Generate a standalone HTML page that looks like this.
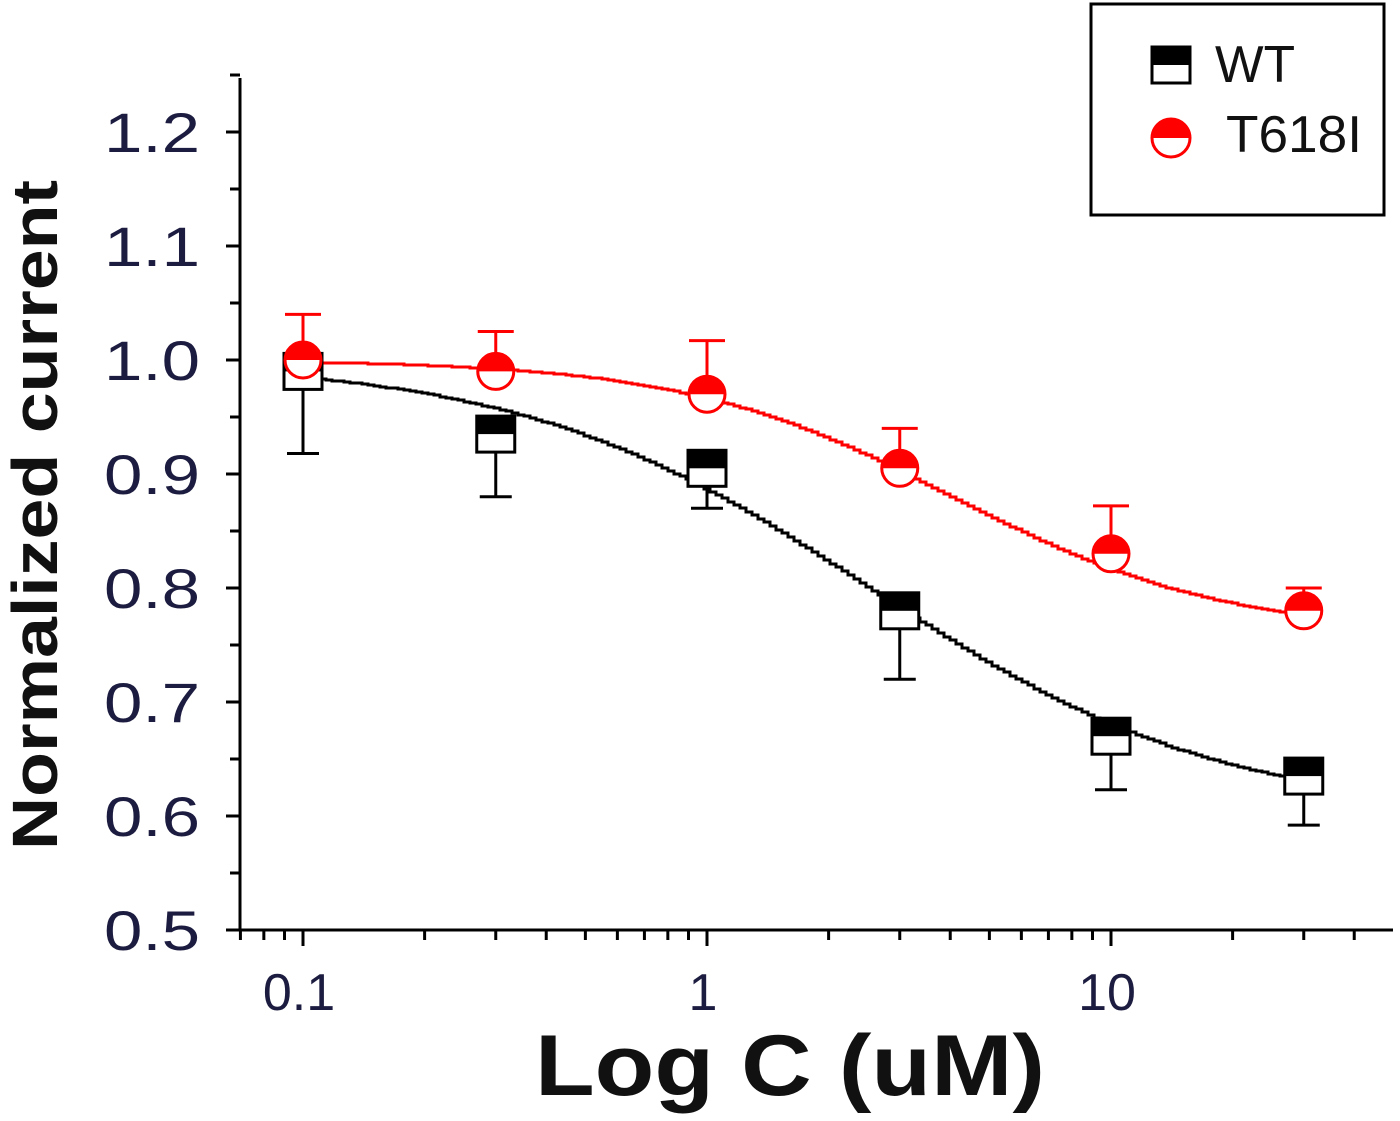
<!DOCTYPE html>
<html><head><meta charset="utf-8"><style>
body{margin:0;background:#fff;}
svg{display:block;font-family:"Liberation Sans",Arial,sans-serif;}
</style></head><body>
<svg id="chart" width="1400" height="1121" viewBox="0 0 1400 1121">
<g id="axes"></g>
<g id="curves"></g>
<g id="marks"></g>
<text transform="translate(57,515) rotate(-90)" text-anchor="middle" font-size="64" font-weight="bold" fill="#111" textLength="670" lengthAdjust="spacingAndGlyphs">Normalized current</text>
<text x="790" y="1095" text-anchor="middle" font-size="86" font-weight="bold" fill="#111" textLength="510" lengthAdjust="spacingAndGlyphs">Log C (uM)</text>
<g>
<rect x="1091" y="4" width="293" height="211" fill="#fff" stroke="#000" stroke-width="3"/>
<g>
<rect x="1152" y="47" width="38" height="36" fill="#fff" stroke="#000" stroke-width="3"/>
<rect x="1152" y="47" width="38" height="18" fill="#000"/>
<text x="1215" y="82" font-size="52" fill="#111" textLength="80" lengthAdjust="spacingAndGlyphs">WT</text></g>
<g>
<circle cx="1171" cy="138" r="19" fill="#fff" stroke="#f00" stroke-width="3"/>
<path d="M1152,138 A19,19 0 0 1 1190,138 Z" fill="#f00"/>
<text x="1226" y="152" font-size="52" fill="#111" textLength="136" lengthAdjust="spacingAndGlyphs">T618I</text></g>
</g>
</svg>
<script>
const xTicks=[0.1,1,10];
const xTickLabels=["0.1","1","10"];
const yTicks=[0.5,0.6,0.7,0.8,0.9,1.0,1.1,1.2];
const yTickLabels=["0.5","0.6","0.7","0.8","0.9","1.0","1.1","1.2"];
const conc=[0.1,0.3,1,3,10,30];
const wtMean=[0.99,0.935,0.905,0.78,0.67,0.635];
const wtErr=[0.072,0.055,0.035,0.06,0.047,0.043];
const mutMean=[1.0,0.99,0.97,0.905,0.83,0.78];
const mutErr=[0.04,0.035,0.047,0.035,0.042,0.02];
const wtFit=[1.0,0.6,2.5,1.0];
const mutFit=[1.0,0.76,4.0,1.3];
const NS="http://www.w3.org/2000/svg";
const X=c=>707+404*Math.log10(c);
const Y=v=>930-(v-0.5)*1140;
function mk(tag,attrs,parent){const e=document.createElementNS(NS,tag);for(const k in attrs)e.setAttribute(k,attrs[k]);parent.appendChild(e);return e;}
const axes=document.getElementById('axes');
mk('line',{x1:240,y1:78,x2:240,y2:931,stroke:'#000','stroke-width':3},axes);
mk('line',{x1:239,y1:930,x2:1393,y2:930,stroke:'#000','stroke-width':3},axes);
for(let v=0.5;v<=1.251;v+=0.05){const major=Math.abs(v*10-Math.round(v*10))<0.01;
const t=mk('line',{x1:major?226:230,y1:Y(v),x2:240,y2:Y(v),stroke:'#000','stroke-width':3},axes);
}
yTicks.forEach((v,i)=>{const t=mk('text',{x:200,y:Y(v)+20,'text-anchor':'end','font-size':56,fill:'#1c1c40',textLength:96,lengthAdjust:'spacingAndGlyphs'},axes);t.textContent=yTickLabels[i];
});
for(let d=0.01;d<=10;d*=10){for(let m=1;m<=9;m++){const c=d*m;const x=X(c);if(x<240||x>1393)continue;
const t=mk('line',{x1:x,y1:930,x2:x,y2:m===1?946:940,stroke:'#000','stroke-width':3},axes);
}}
xTicks.forEach((c,i)=>{const t=mk('text',{x:X(c)-4,y:1010,'text-anchor':'middle','font-size':52,fill:'#1c1c40'},axes);t.textContent=xTickLabels[i];
});
const curves=document.getElementById('curves');
function hill(p,c){return p[1]+(p[0]-p[1])/(1+Math.pow(c/p[2],p[3]));}
function curve(p,color,name){let d='';let py=null;for(let x=302;x<=1304;x+=6){const c=Math.pow(10,(x-707)/404);const y=Math.round(Y(hill(p,c)));
if(py===null)d+='M'+x+','+y;else d+='H'+x+'V'+y;py=y;}
const e=mk('path',{d:d,fill:'none',stroke:color,'stroke-width':3},curves);}
curve(wtFit,'#000','wt-fit-curve');curve(mutFit,'#f00','t618i-fit-curve');
const marks=document.getElementById('marks');
conc.forEach((c,i)=>{const x=X(c),y=Y(wtMean[i]),yl=Y(wtMean[i]-wtErr[i]);
const g=mk('g',{},marks);
mk('line',{x1:x,y1:y,x2:x,y2:yl,stroke:'#000','stroke-width':3},g);
mk('line',{x1:x-16,y1:yl,x2:x+16,y2:yl,stroke:'#000','stroke-width':3},g);
mk('rect',{x:x-19,y:y-18,width:38,height:36,fill:'#fff',stroke:'#000','stroke-width':3},g);
mk('rect',{x:x-19,y:y-18,width:38,height:18,fill:'#000'},g);});
conc.forEach((c,i)=>{const x=X(c),y=Y(mutMean[i]),yu=Y(mutMean[i]+mutErr[i]);
const g=mk('g',{},marks);
mk('line',{x1:x,y1:y,x2:x,y2:yu,stroke:'#f00','stroke-width':3},g);
mk('line',{x1:x-18,y1:yu,x2:x+18,y2:yu,stroke:'#f00','stroke-width':3},g);
mk('circle',{cx:x,cy:y,r:18,fill:'#fff',stroke:'#f00','stroke-width':3},g);
mk('path',{d:`M${x-18},${y} A18,18 0 0 1 ${x+18},${y} Z`,fill:'#f00'},g);});
</script>
</body></html>
